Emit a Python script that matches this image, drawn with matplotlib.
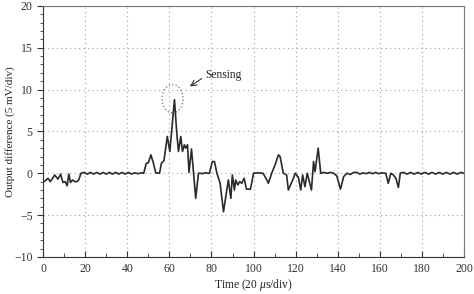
import matplotlib
matplotlib.use("Agg")
import matplotlib.pyplot as plt
from matplotlib.patches import Ellipse
from matplotlib.ticker import MultipleLocator

plt.rcParams['font.family'] = ['Liberation Serif', 'DejaVu Serif']
plt.rcParams['mathtext.fontset'] = 'custom'
plt.rcParams['mathtext.it'] = 'Liberation Serif:italic'
plt.rcParams['mathtext.rm'] = 'Liberation Serif'

# Valores (tiempo, diferencia de salida)
t_a = [0, 1, 2.3, 3.4, 4.5, 5.5, 7, 8.3, 9.4, 10.5, 11.4, 12.2, 13, 14, 15, 16, 16.9, 18]
v_a = [-1.0, -0.9, -0.6, -1.0, -0.6, -0.2, -0.7, -0.1, -1.1, -1.0, -1.5, -0.1, -1.1, -0.8, -1.0, -1.0, -0.8, 0.0]

t_b = [19.5, 21, 22.5, 24, 25.5, 27, 28.5, 30, 31.5, 33, 34.5, 36, 37.5, 39, 40.5, 42, 43.5, 45, 46.5, 47.8]
v_b = [0.1, -0.1, 0.1, -0.1, 0.1, -0.1, 0.1, -0.1, 0.1, -0.1, 0.1, -0.1, 0.1, -0.1, 0.1, -0.1, 0.05, -0.05, 0.05, 0.0]

t_c = [49.0, 50, 51.2, 52.4, 53.5, 55.3, 56.2, 57.4, 59, 60.2, 62.4, 63.5, 64.3, 65.4, 66.2, 67.1, 67.7,
       68.6, 69.3, 70.5, 72.5, 73.8]
v_c = [1.2, 1.25, 2.2, 1.2, 0.05, 0.0, 1.2, 1.5, 4.4, 2.6, 8.8, 4.8, 2.6, 4.4, 2.6, 3.4, 3.0,
       3.4, 0.1, 2.9, -3.0, 0.0]

t_d = [74.5, 75.5, 77, 79, 80.4, 81.4, 82.6, 84.1, 85.7, 87.3, 88, 89.2, 89.9, 90.9, 91.5, 92.5, 93.4,
       94.4, 95.5, 96.6, 98.5, 100]
v_d = [0.0, -0.05, 0.05, 0.0, 1.4, 1.4, 0.0, -1.2, -4.6, -2.0, -0.8, -3.0, -0.2, -2.0, -0.8, -1.4, -1.0,
       -1.2, -0.6, -1.9, -1.9, 0.0]

t_e = [102, 104.5, 106.3, 107, 108.6, 110.2, 111.8, 112.6, 114.1, 115.7, 116.5, 118.6, 119.8, 121.3,
       122.4, 123.3, 124.4, 125.5, 126.5, 127.5, 128.5, 129.2, 130.7, 131.9]
v_e = [0.05, 0.0, -0.8, -1.2, 0.0, 1.0, 2.2, 2.0, 0.0, -0.2, -2.0, -0.8, 0.0, -0.5,
       -2.0, -0.2, -1.6, 0.0, -1.0, -2.0, 1.4, 0.2, 3.0, 0.0]

t_f = [133.5, 135, 136.5, 138, 139.5, 140.5, 141.3, 142.8, 144.3, 146, 147.5, 149, 150.5, 152, 153.5,
       155, 156.5, 158, 159.5, 161, 162.8, 164, 165.2, 166.4, 167.6, 168.8, 169.7, 171.2, 172.9, 174.6,
       176.3, 178, 179.7, 181.4, 183.1, 184.8, 186.5, 188.2, 189.9, 191.6, 193.3, 195, 196.7, 198.4, 200]
v_f = [0.1, 0.0, 0.1, 0.0, -0.3, -1.2, -1.9, -0.4, 0.0, -0.15, 0.1, 0.1, -0.1, 0.05, -0.05,
       0.1, -0.05, 0.1, -0.05, 0.05, 0.0, -1.2, 0.0, -0.2, -0.6, -1.7, 0.0, 0.1, -0.1, 0.1,
       -0.1, 0.1, -0.1, 0.1, -0.1, 0.1, -0.1, 0.1, -0.1, 0.1, -0.1, 0.1, -0.1, 0.1, 0.0]

t = t_a + t_b + t_c + t_d + t_e + t_f
v = v_a + v_b + v_c + v_d + v_e + v_f

fig = plt.figure(figsize=(4.74, 2.94), dpi=100)
ax = fig.add_axes([0.091, 0.126, 0.888, 0.854])

ax.plot(t, v, color="#2a2a2a", linewidth=1.2)

# Elipse punteada y flecha de "Sensing"
ax.add_patch(Ellipse((61.5, 8.9), 10, 3.4, fill=False, edgecolor="#888888",
                     linestyle=(0, (1, 1.5)), linewidth=1.0))
ax.annotate("", xy=(68.6, 10.2), xytext=(76.5, 11.5),
            arrowprops=dict(arrowstyle="->", color="#333333", lw=0.8))
ax.text(77, 11.7, "Sensing", fontsize=8.3, va="center", ha="left", color="#222222")

ax.set_xlim(0, 200)
ax.set_ylim(-10, 20)
ax.xaxis.set_major_locator(MultipleLocator(20))
ax.xaxis.set_minor_locator(MultipleLocator(10))
ax.yaxis.set_major_locator(MultipleLocator(5))
ax.yaxis.set_minor_locator(MultipleLocator(1))

ax.grid(True, which="major", linestyle=(0, (1, 3)), color="#a0a0a0", linewidth=0.8)

ax.tick_params(axis="x", which="both", direction="in", labelsize=8.5, colors="#333333", pad=4)
ax.tick_params(axis="x", which="major", length=4)
ax.tick_params(axis="x", which="minor", length=3)
ax.tick_params(axis="y", which="both", direction="out", labelsize=8.5, colors="#333333")
ax.tick_params(axis="y", which="major", length=4)
ax.tick_params(axis="y", which="minor", length=2.5)

ax.spines["top"].set_color("#777777")
ax.spines["right"].set_color("#777777")
ax.spines["left"].set_color("#333333")
ax.spines["bottom"].set_color("#333333")

ax.set_xlabel(r"Time (20 $\mathit{\mu}$s/div)", fontsize=8.3, color="#222222", labelpad=2)
ax.set_ylabel("Output difference (5 mV/div)", fontsize=8, color="#222222")
ax.yaxis.set_label_coords(-0.068, 0.5)

fig.savefig("out.png", dpi=100)
